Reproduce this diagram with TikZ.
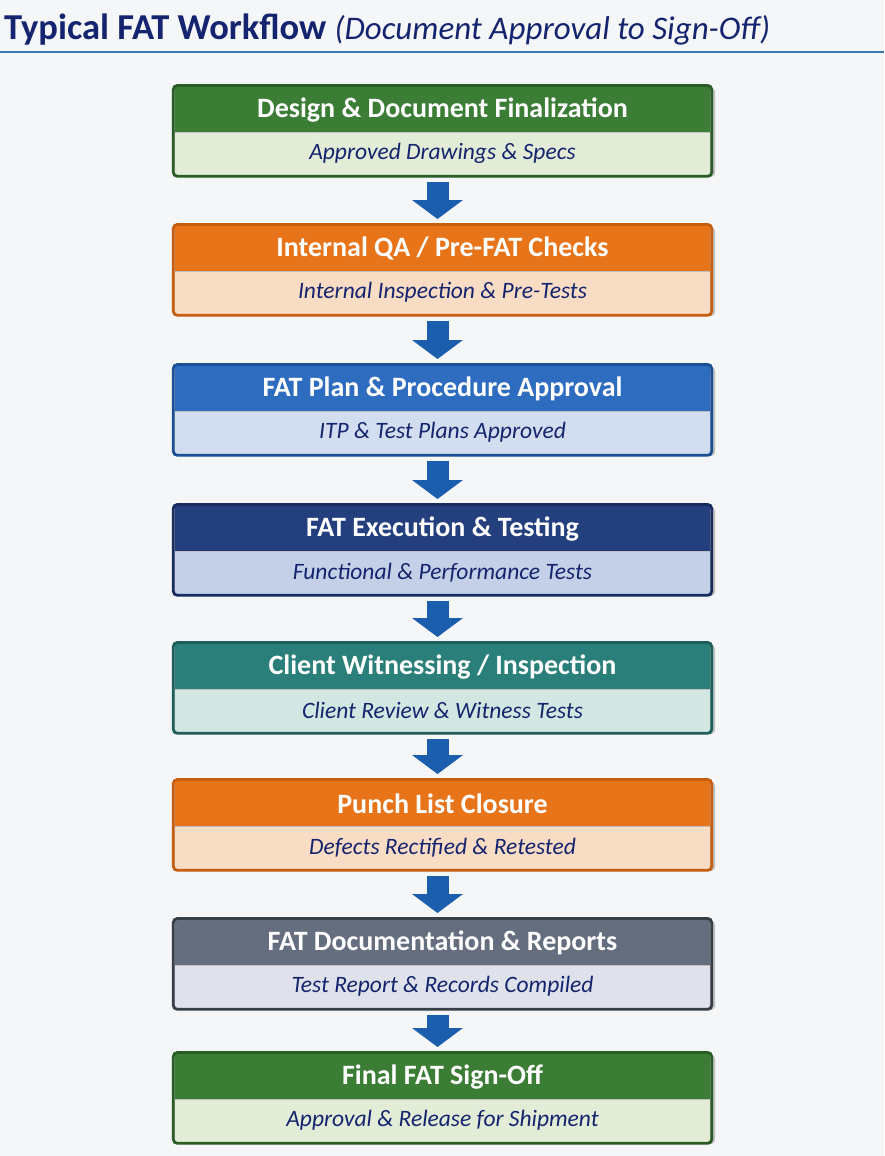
\documentclass[tikz,border=0pt]{standalone}
\usepackage{fontspec}
\setmainfont{Carlito}
\usetikzlibrary{arrows.meta,positioning}
\definecolor{bgc}{HTML}{F5F6F8}
\definecolor{navy}{HTML}{14246E}
\definecolor{rule}{HTML}{3D78B5}
\definecolor{arr}{HTML}{1C5EAE}
\definecolor{gH}{HTML}{3B7D35}\definecolor{gB}{HTML}{2A5C26}\definecolor{gS}{HTML}{E3ECD6}
\definecolor{oH}{HTML}{E8741A}\definecolor{oB}{HTML}{C65E10}\definecolor{oS}{HTML}{F9DCC4}
\definecolor{bH}{HTML}{2E6CC0}\definecolor{bB}{HTML}{1D4F94}\definecolor{bS}{HTML}{D2DDEF}
\definecolor{nH}{HTML}{233F7E}\definecolor{nB}{HTML}{172D5E}\definecolor{nS}{HTML}{C4D0E8}
\definecolor{tH}{HTML}{2B7F7A}\definecolor{tB}{HTML}{1E5F5B}\definecolor{tS}{HTML}{D2E7E1}
\definecolor{yH}{HTML}{646E7E}\definecolor{yB}{HTML}{383E48}\definecolor{yS}{HTML}{DFE2EA}
\tikzset{
  head/.style={minimum width=535pt, minimum height=45pt, inner sep=0pt, text=white,
    font=\fontsize{28}{32}\selectfont\bfseries, anchor=north},
  sub/.style={minimum width=535pt, minimum height=42pt, inner sep=0pt, text=navy,
    font=\fontsize{23.5}{27}\selectfont\itshape, below=0pt of #1},
  frame/.style={draw=#1, line width=2.8pt, rounded corners=4pt},
  blockarrow/.style={draw=arr, line width=22pt, -{Triangle[width=50pt,length=19pt]}}
}
\newcommand{\fatbox}[7]{% name, top y, headcolor, subcolor, border, head text, sub text
  \fill[black!25, rounded corners=4pt] (172.5pt,-#2pt-1pt) rectangle (715pt,-#2pt-90pt);
  \node[head, fill=#3] (h#1) at (442.5pt,-#2pt) {#6};
  \node[sub=h#1, fill=#4] (s#1) {#7};
  \draw[frame=#5] ([shift={(-1.5pt,1.5pt)}]h#1.north west) rectangle ([shift={(1.5pt,-1.5pt)}]s#1.south east);
}
\begin{document}
\begin{tikzpicture}[x=1pt,y=1pt]
\fill[bgc] (0,0) rectangle (884,-1156);
\useasboundingbox (0,0) rectangle (884,-1156);
\node[anchor=base west, inner sep=0pt, text=navy] (title) at (4,-40)
  {\fontsize{36.5}{42}\selectfont\bfseries Typical FAT Workflow \mdseries\itshape\fontsize{33}{38}\selectfont(Document Approval to Sign-Off)};
\draw[rule, line width=2pt] (0,-52) -- (884,-52);
\fatbox{1}{87}{gH}{gS}{gB}{Design \& Document Finalization}{Approved Drawings \& Specs}
\fatbox{2}{226}{oH}{oS}{oB}{Internal QA / Pre-FAT Checks}{Internal Inspection \& Pre-Tests}
\fatbox{3}{366}{bH}{bS}{bB}{FAT Plan \& Procedure Approval}{ITP \& Test Plans Approved}
\fatbox{4}{506}{nH}{nS}{nB}{FAT Execution \& Testing}{Functional \& Performance Tests}
\fatbox{5}{644}{tH}{tS}{tB}{Client Witnessing / Inspection}{Client Review \& Witness Tests}
\fatbox{6}{781}{oH}{oS}{oB}{Punch List Closure}{Defects Rectified \& Retested}
\fatbox{7}{920}{yH}{yS}{yB}{FAT Documentation \& Reports}{Test Report \& Records Compiled}
\fatbox{8}{1054}{gH}{gS}{gB}{Final FAT Sign-Off}{Approval \& Release for Shipment}
\foreach \a/\b in {1/2,2/3,3/4,4/5,5/6,6/7,7/8}{
  \draw[blockarrow] ([xshift=-5pt,yshift=-7pt]s\a.south) -- ([xshift=-5pt,yshift=7pt]h\b.north);
}
\end{tikzpicture}
\end{document}
